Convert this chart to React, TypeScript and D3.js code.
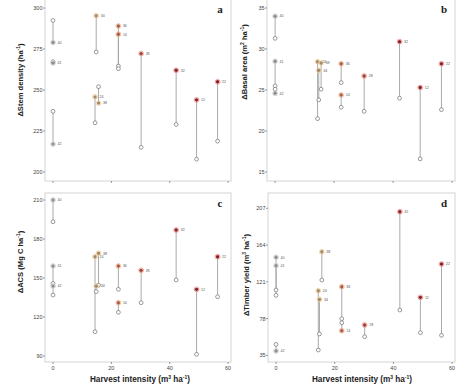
import * as React from "react";
import { scaleLinear, scaleThreshold } from "d3";

// plots and their harvest intensity (m3/ha)
const plotIds = ["40", "41", "42", "24", "34", "38", "36", "14", "28", "32", "12", "22"];
const harvest = [0, 0, 0, 14.4, 14.8, 15.6, 22.4, 22.4, 30.2, 42.2, 49.2, 56.4];

// a - stem density
const stemPre = [292.4, 267.3, 237, 230, 273.2, 252, 264.6, 263, 215, 229, 207.8, 218.8];
const stemPost = [279, 266.5, 217, 245.8, 295.3, 242, 289, 284, 272.2, 262, 244, 255];
// b - basal area
const basalPre = [31.3, 25.5, 25.1, 21.5, 23.8, 25.1, 25.9, 22.9, 22.4, 24.0, 16.6, 22.6];
const basalPost = [34.0, 28.5, 24.6, 28.45, 27.4, 28.3, 28.2, 24.4, 26.7, 30.9, 25.3, 28.2];
// c - ACS
const acsPre = [193.3, 145.9, 136.9, 108.7, 139.5, 144.5, 141.3, 123.6, 131, 148.5, 91.3, 135.6];
const acsPost = [210, 159.2, 143.8, 166.4, 143.8, 169, 159.2, 131, 155.9, 186.9, 141.3, 166.4];
// d - timber yield
const timberPre = [111.4, 105.2, 47.8, 41.2, 60, 123.1, 73.2, 77.8, 56.8, 88, 61.5, 58.4];
const timberPost = [149.7, 139.9, 40, 110.6, 100.5, 156.2, 115.3, 63.8, 70.5, 203, 102.8, 141.8];

const xTicks = [0, 20, 40, 60];
const stemTicks = [200, 225, 250, 275, 300];
const basalTicks = [15, 20, 25, 30, 35];
const acsTicks = [90, 120, 150, 180, 210];
const timberTicks = [35, 78, 121, 164, 207];

const fillColor = scaleThreshold<number, string>()
    .domain([5, 20, 27, 38])
    .range(["#8e8e8e", "#a58a6c", "#a85c44", "#9e3e36", "#891f26"]);
const haloColor = scaleThreshold<number, string>()
    .domain([5, 20, 27, 38])
    .range(["#cfcfcf", "#f0cf9f", "#f2b393", "#f09b8d", "#ef9090"]);

function Panel({ box, yDomain, yTicks, pre, post, title, letter, showXLabels }) {
    const [left, top, right, bottom] = box;
    const xScale = scaleLinear().domain([-2.75, 61]).range([left, right]);
    const yScale = scaleLinear().domain(yDomain).range([bottom, top]);
    const idx = plotIds.map((_, i) => i);
    return (
        <g>
            <rect x={left} y={top} width={right - left} height={bottom - top}
                fill="white" stroke="#d4d4d4" strokeWidth={1} />
            {/* y axis */}
            {yTicks.map(t => (
                <g key={t} transform={`translate(${left}, ${yScale(t)})`}>
                    <line x1={-2} x2={0} stroke="#555" strokeWidth={0.6} />
                    <text x={-2.5} dy="0.35em" textAnchor="end" fontSize={5.5}
                        fill="#444" fontFamily="Liberation Sans, Arial">{t}</text>
                </g>
            ))}
            {/* x axis */}
            {xTicks.map(t => (
                <g key={t} transform={`translate(${xScale(t)}, ${bottom})`}>
                    <line y1={0} y2={2} stroke="#555" strokeWidth={0.6} />
                    {showXLabels && (
                        <text y={7.5} textAnchor="middle" fontSize={5.5}
                            fill="#444" fontFamily="Liberation Sans, Arial">{t}</text>
                    )}
                </g>
            ))}
            {/* segments */}
            {idx.map(i => (
                <line key={"s" + i} x1={xScale(harvest[i])} x2={xScale(harvest[i])}
                    y1={yScale(pre[i])} y2={yScale(post[i])}
                    stroke="#a0a0a0" strokeWidth={0.9} />
            ))}
            {/* open circles: before */}
            {idx.map(i => (
                <circle key={"o" + i} cx={xScale(harvest[i])} cy={yScale(pre[i])} r={1.9}
                    fill="white" stroke="#6e6e6e" strokeWidth={0.7} />
            ))}
            {/* filled: after */}
            {idx.map(i => (
                <g key={"f" + i}>
                    <circle cx={xScale(harvest[i])} cy={yScale(post[i])} r={2.4}
                        fill="none" stroke={haloColor(harvest[i])} strokeWidth={0.9} />
                    <circle cx={xScale(harvest[i])} cy={yScale(post[i])} r={1.7}
                        fill={fillColor(harvest[i])} />
                    <text x={xScale(harvest[i]) + 4.5} y={yScale(post[i])} dy="0.35em"
                        fontSize={3.6} fill="#555" fontFamily="Liberation Sans, Arial">{plotIds[i]}</text>
                </g>
            ))}
            <text x={right - 11} y={top + 14} textAnchor="middle" fontSize={11}
                fontWeight="bold" fontFamily="Liberation Serif, Times New Roman" fill="#222">{letter}</text>
            {title}
        </g>
    );
}

function YTitle({ x, y, children }) {
    return (
        <text transform={`translate(${x}, ${y}) rotate(-90)`} textAnchor="middle"
            fontSize={7.6} fontWeight="bold" fill="#222" fontFamily="Liberation Sans, Arial">
            {children}
        </text>
    );
}

function XTitle({ x, y }) {
    return (
        <text x={x} y={y} textAnchor="middle" fontSize={8.2} fontWeight="bold"
            fill="#222" fontFamily="Liberation Sans, Arial">
            Harvest intensity (m<tspan dy={-3} fontSize={5}>3</tspan>
            <tspan dy={3}> ha</tspan><tspan dy={-3} fontSize={5}>-1</tspan><tspan dy={3}>)</tspan>
        </text>
    );
}

function sup(s) {
    return [<tspan key="a" dy={-3} fontSize={5}>{s}</tspan>, <tspan key="b" dy={3}>)</tspan>];
}

export default function App() {
    return (
        <svg width={474} height={389} style={{ position: "absolute", left: 0, top: 0, background: "white" }}>
            <Panel box={[45, -1, 231, 181]} yDomain={[194.5, 305.5]} yTicks={stemTicks}
                pre={stemPre} post={stemPost} letter="a" showXLabels={false}
                title={<YTitle x={23} y={80}>ΔStem density (ha{sup("-1")}</YTitle>} />
            <Panel box={[267, -1, 455, 181]} yDomain={[13.9, 36.1]} yTicks={basalTicks}
                pre={basalPre} post={basalPost} letter="b" showXLabels={false}
                title={<YTitle x={247} y={62}>ΔBasal area (m<tspan dy={-3} fontSize={5}>2</tspan><tspan dy={3}> ha</tspan>{sup("-1")}</YTitle>} />
            <Panel box={[45, 193, 231, 362]} yDomain={[85.4, 215.4]} yTicks={acsTicks}
                pre={acsPre} post={acsPost} letter="c" showXLabels={true}
                title={<YTitle x={23} y={262}>ΔACS (Mg C ha{sup("-1")}</YTitle>} />
            <Panel box={[268, 193, 455, 362]} yDomain={[27.2, 224.9]} yTicks={timberTicks}
                pre={timberPre} post={timberPost} letter="d" showXLabels={true}
                title={<YTitle x={249} y={275}>ΔTimber yield (m<tspan dy={-3} fontSize={5}>3</tspan><tspan dy={3}> ha</tspan>{sup("-1")}</YTitle>} />
            <XTitle x={140} y={382} />
            <XTitle x={362} y={382} />
        </svg>
    );
}
